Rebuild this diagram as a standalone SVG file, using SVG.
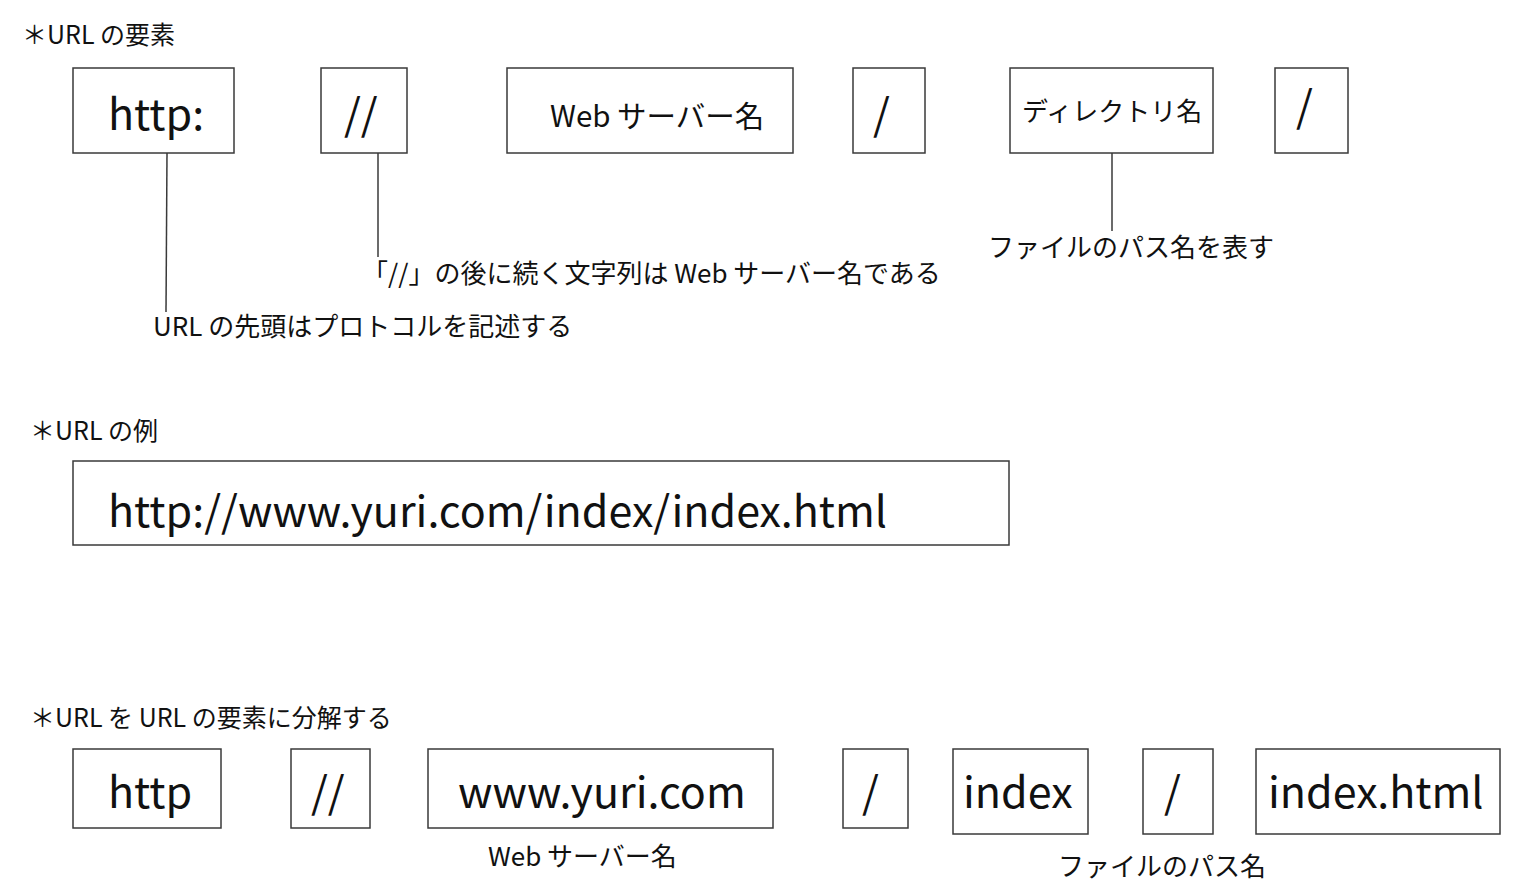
<svg xmlns="http://www.w3.org/2000/svg" width="1536" height="892" viewBox="0 0 1536 892">
<style>
.box{fill:#fff;stroke:#3a3a3a;stroke-width:1.5}
.t{font-family:"Noto Sans CJK JP","Open Sans",sans-serif;fill:#111}
.big{font-size:43px}
.mid{font-size:29.5px}
.sm{font-size:26px}
.hd{font-size:25px}
.ln{stroke:#3a3a3a;stroke-width:1.5;fill:none}
</style>
<rect width="1536" height="892" fill="#fff"/>
<text class="t hd" x="22" y="44">＊URL の要素</text>
<text class="t hd" x="30" y="440">＊URL の例</text>
<text class="t hd" x="30" y="727">＊URL を URL の要素に分解する</text>

<g id="connectors">
<line class="ln" x1="167" y1="153" x2="166" y2="312"/>
<line class="ln" x1="378" y1="153" x2="378" y2="257"/>
<line class="ln" x1="1112" y1="153" x2="1112" y2="231"/>
</g>

<g id="n-http"><rect class="box" x="73" y="68" width="161" height="85"/><text class="t big" x="108" y="130">http:</text></g>
<g id="n-slashes"><rect class="box" x="321" y="68" width="86" height="85"/><text class="t big" x="344" y="130">//</text></g>
<g id="n-server"><rect class="box" x="507" y="68" width="286" height="85"/><text class="t mid" x="550" y="127">Web サーバー名</text></g>
<g id="n-slash1"><rect class="box" x="853" y="68" width="72" height="85"/><text class="t big" x="873" y="130">/</text></g>
<g id="n-dir"><rect class="box" x="1010" y="68" width="203" height="85"/><text class="t sm" x="1022" y="121">ディレクトリ名</text></g>
<g id="n-slash2"><rect class="box" x="1275" y="68" width="73" height="85"/><text class="t big" x="1296" y="122">/</text></g>

<text class="t sm" x="362" y="283">「//」の後に続く文字列は Web サーバー名である</text>
<text class="t sm" x="153" y="336">URL の先頭はプロトコルを記述する</text>
<text class="t sm" x="988" y="257">ファイルのパス名を表す</text>

<g id="n-example"><rect class="box" x="73" y="461" width="936" height="84"/><text class="t big" x="108" y="527">http://www.yuri.com/index/index.html</text></g>

<g id="b-http"><rect class="box" x="73" y="749" width="148" height="79"/><text class="t big" x="108" y="808">http</text></g>
<g id="b-slashes"><rect class="box" x="291" y="749" width="79" height="79"/><text class="t big" x="311" y="808">//</text></g>
<g id="b-server"><rect class="box" x="428" y="749" width="345" height="79"/><text class="t big" x="458" y="808">www.yuri.com</text></g>
<g id="b-slash1"><rect class="box" x="843" y="749" width="65" height="79"/><text class="t big" x="862" y="808">/</text></g>
<g id="b-index"><rect class="box" x="953" y="749" width="135" height="85"/><text class="t big" x="963" y="808">index</text></g>
<g id="b-slash2"><rect class="box" x="1143" y="749" width="70" height="85"/><text class="t big" x="1164" y="808">/</text></g>
<g id="b-file"><rect class="box" x="1256" y="749" width="244" height="85"/><text class="t big" x="1268" y="808">index.html</text></g>

<text class="t sm" x="488" y="866">Web サーバー名</text>
<text class="t sm" x="1058" y="876">ファイルのパス名</text>
</svg>
